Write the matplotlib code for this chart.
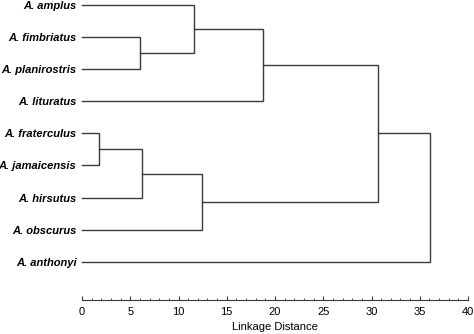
import numpy as np
import matplotlib
matplotlib.use('Agg')
import matplotlib.pyplot as plt

species = ['A. amplus', 'A. fimbriatus', 'A. planirostris', 'A. lituratus',
           'A. fraterculus', 'A. jamaicensis', 'A. hirsutus', 'A. obscurus',
           'A. anthonyi']
# merges: (left cluster, right cluster, linkage distance); new clusters get ids 9, 10, ...
merge_left = [1, 4, 10, 11, 0, 13, 14, 15]
merge_right = [2, 5, 6, 7, 9, 3, 12, 8]
merge_dist = [6.0, 1.8, 6.2, 12.4, 11.6, 18.8, 30.7, 36.1]

plt.rcParams['font.family'] = ['Liberation Sans', 'DejaVu Sans']
fig = plt.figure(figsize=(4.74, 3.34), dpi=100)
ax = fig.add_axes([82 / 474, 1 - 300 / 334, 386 / 474, 295 / 334])

col = '#3a3a3a'
pos = {i: float(i) for i in range(len(species))}
height = {i: 0.0 for i in range(len(species))}
for k in range(len(merge_dist)):
    a, b, d = merge_left[k], merge_right[k], merge_dist[k]
    ax.plot([height[a], d, d, height[b]], [pos[a], pos[a], pos[b], pos[b]],
            color=col, linewidth=1.0, clip_on=False, solid_joinstyle='miter')
    new = len(species) + k
    pos[new] = (pos[a] + pos[b]) / 2
    height[new] = d

ax.set_xlim(0, 40)
ax.set_ylim((300 - 5) / 32.1, 0)
ax.set_yticks(range(len(species)))
ax.set_yticklabels(species, fontsize=8, fontweight='bold', fontstyle='italic')
ax.tick_params(axis='y', length=0, pad=4)
ax.set_xticks(np.arange(0, 41, 5))
ax.set_xticks(np.arange(0, 41, 1), minor=True)
ax.tick_params(axis='x', which='major', direction='in', length=3, width=0.8,
               color=col, labelsize=8, pad=5)
ax.tick_params(axis='x', which='minor', direction='in', length=1.5, width=0.6, color=col)
for s in ['top', 'right', 'left']:
    ax.spines[s].set_visible(False)
ax.spines['bottom'].set_color(col)
ax.spines['bottom'].set_linewidth(0.8)
ax.set_xlabel('Linkage Distance', fontsize=8, labelpad=4)

fig.savefig('out.png', dpi=100)
